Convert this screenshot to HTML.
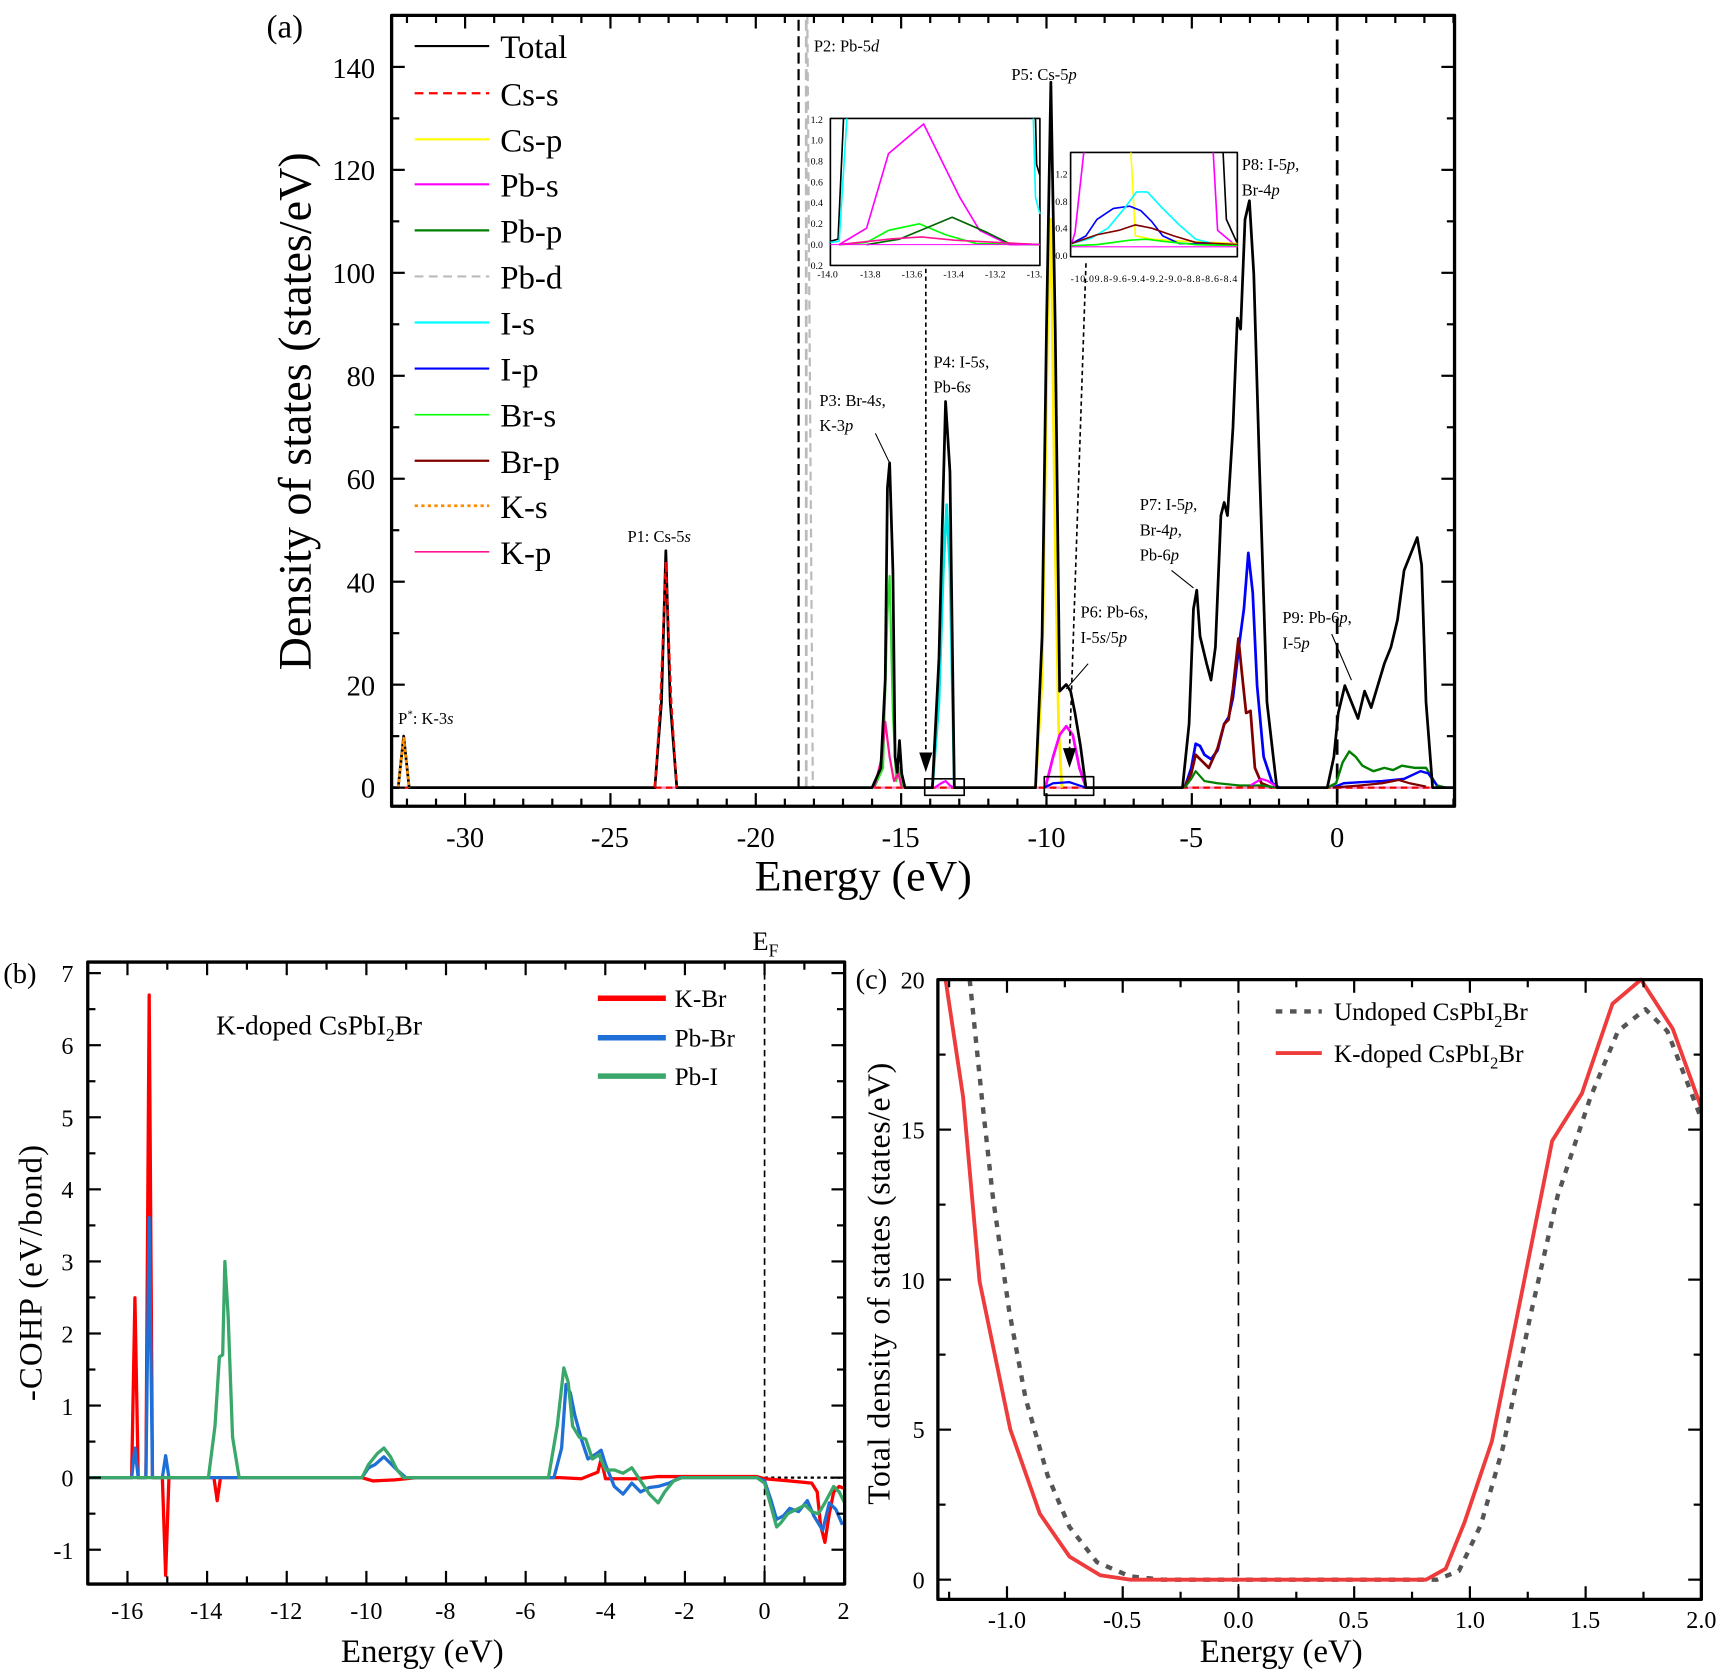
<!DOCTYPE html>
<html><head><meta charset="utf-8"><style>
html,body{margin:0;padding:0;background:#fff;}
svg{display:block;}
text{font-family:"Liberation Serif",serif;fill:#000;}
</style></head><body>
<svg id="s" width="1720" height="1674" viewBox="0 0 1568 1526" preserveAspectRatio="none" xmlns="http://www.w3.org/2000/svg">
<g fill="none" stroke-linejoin="round">
<!-- ===== Panel (a) ===== -->
<line x1="728" y1="718" x2="728" y2="14" stroke="#000" stroke-width="2" stroke-dasharray="10,5"/>
<line x1="735" y1="718" x2="735" y2="14" stroke="#bbb" stroke-width="2.5" stroke-dasharray="10,5"/>
<polyline points="736,14 738,300 741,718" stroke="#bbb" stroke-width="2" stroke-dasharray="8,5"/>
<line x1="1219" y1="14" x2="1219" y2="735" stroke="#000" stroke-width="2.5" stroke-dasharray="14,8"/>
<polyline points="357,718 1326,718" stroke="#ff7fbf" stroke-width="2"/>
<polyline points="357,718 1326,718" stroke="#e00" stroke-width="2" stroke-dasharray="6,4"/>
<polyline points="797,718 805,700 809,560 811,525 814,650 817,712 820,700 822,710 824,718" stroke="#33dd33" stroke-width="2"/>
<polyline points="797,718 804,690 807,658 811,690 815,712 819,705 822,718" stroke="#ff1493" stroke-width="2"/>
<polyline points="850,718 856,640 860,520 863,460 866,520 870,718" stroke="#00e5e5" stroke-width="2.5"/>
<polyline points="852,718 858,714 862,712 866,716 870,718" stroke="#f0f" stroke-width="2"/>
<polyline points="944,718 950,620 955,300 958,200 962,500 965,660 968,718" stroke="#ffee00" stroke-width="2.5"/>
<polyline points="953,718 960,690 966,670 972,662 978,670 984,700 990,718" stroke="#f0f" stroke-width="2.5"/>
<polyline points="952,718 960,714 975,713 990,718" stroke="#00f" stroke-width="2"/>
<polyline points="1080,718 1086,700 1090,678 1094,680 1098,688 1104,692 1110,684 1116,660 1120,654 1124,636 1130,585 1134,555 1138,504 1142,540 1146,625 1152,690 1160,714 1166,718" stroke="#00f" stroke-width="2.5"/>
<polyline points="1080,718 1086,705 1090,688 1096,694 1102,700 1110,682 1116,660 1120,656 1124,628 1129,582 1132,612 1136,650 1140,648 1144,700 1150,714 1160,718" stroke="#800000" stroke-width="2.5"/>
<polyline points="1080,718 1086,710 1090,703 1098,712 1110,714 1130,716 1150,716 1165,718" stroke="#008000" stroke-width="2"/>
<polyline points="1140,716 1150,710 1156,712 1165,718" stroke="#f0f" stroke-width="2"/>
<polyline points="1210,718 1218,714 1224,695 1230,685 1236,690 1242,698 1252,703 1262,700 1270,702 1278,698 1290,700 1300,700 1310,716 1318,718" stroke="#008000" stroke-width="2.2"/>
<polyline points="1215,718 1225,714 1240,713 1260,712 1280,710 1295,703 1302,705 1310,716" stroke="#00f" stroke-width="2.2"/>
<polyline points="1215,718 1240,716 1260,714 1275,711 1285,714 1300,717" stroke="#800000" stroke-width="2"/>
<!-- Total -->
<polyline points="357,718 363,718 368,671 373,718 597,718 603,640 607,502 611,640 617,718 795,718 803,700 807,620 809,445 811,422 814,520 816,690 818,704 820,675 822,705 825,718 850,718 856,600 859,480 862,366 866,430 870,718 944,718 950,580 954,300 958,75 962,300 966,630 972,624 976,630 980,650 985,680 990,718 1078,718 1084,660 1088,555 1091,538 1094,580 1100,605 1104,620 1108,590 1113,470 1116,458 1119,470 1124,390 1128,290 1131,300 1135,200 1139,183 1143,250 1148,420 1155,640 1164,718 1210,718 1216,690 1220,650 1226,625 1232,640 1238,655 1244,630 1250,645 1256,625 1262,605 1268,590 1274,565 1280,520 1286,505 1292,490 1296,515 1300,640 1306,718 1326,718" stroke="#000" stroke-width="2.5"/>
<!-- overlays on top of total -->
<polyline points="363,718 368,673 373,718" stroke="#ff8c00" stroke-width="2.5" stroke-dasharray="3,2"/>
<polyline points="597,718 602,640 607,512 612,640 617,718" stroke="#f00" stroke-width="2" stroke-dasharray="6,4"/>
<rect x="843" y="710" width="36" height="15" stroke="#000" stroke-width="1.5"/>
<rect x="952" y="708" width="45" height="17" stroke="#000" stroke-width="1.5"/>
<line x1="844" y1="245" x2="844" y2="690" stroke="#000" stroke-width="1.5" stroke-dasharray="4,3"/>
<line x1="990" y1="240" x2="975" y2="684" stroke="#000" stroke-width="1.5" stroke-dasharray="4,3"/>
<polygon points="838,686 850,686 844,704" fill="#000" stroke="none"/>
<polygon points="969,682 981,682 975,700" fill="#000" stroke="none"/>
<line x1="798" y1="395" x2="811" y2="422" stroke="#000" stroke-width="1"/>
<line x1="1068" y1="520" x2="1088" y2="536" stroke="#000" stroke-width="1"/>
<line x1="992" y1="605" x2="972" y2="628" stroke="#000" stroke-width="1"/>
<line x1="1214" y1="578" x2="1232" y2="620" stroke="#000" stroke-width="1"/>
<rect x="357" y="14" width="969" height="721" stroke="#000" stroke-width="3"/>
<g id="ticksA" stroke="#000" stroke-width="2"></g>

<!-- Inset 1 -->
<rect x="757" y="108" width="191" height="134" fill="#fff" stroke="#000" stroke-width="1.5"/>
<polyline points="757,220 764,218 769,108" stroke="#000" stroke-width="1.5"/>
<polyline points="757,221 765,220 772,108" stroke="#0ff" stroke-width="1.5"/>
<polyline points="944,108 945,150 948,160" stroke="#000" stroke-width="1.5"/>
<polyline points="942,108 944,180 948,195" stroke="#0ff" stroke-width="1.5"/>
<polyline points="765,223 790,208 810,140 842,113 875,180 893,210 920,223 948,223" stroke="#f0f" stroke-width="1.5"/>
<polyline points="765,223 790,221 810,210 838,204 862,214 890,222 948,223" stroke="#0f0" stroke-width="1.5"/>
<polyline points="790,223 820,218 868,198 900,212 920,222 948,223" stroke="#006400" stroke-width="1.5"/>
<polyline points="765,223 810,218 840,216 870,219 948,223" stroke="#ff1493" stroke-width="1.5"/>
<polyline points="757,223 948,223" stroke="#f0f" stroke-width="1"/>
<!-- Inset 2 -->
<rect x="976" y="139" width="152" height="95" fill="#fff" stroke="#000" stroke-width="1.5"/>
<polyline points="977,222 980,212 988,139" stroke="#f0f" stroke-width="1.5"/>
<polyline points="1106,139 1110,210 1128,225" stroke="#f0f" stroke-width="1.5"/>
<polyline points="1115,139 1118,200 1128,222" stroke="#000" stroke-width="1.5"/>
<polyline points="1031,139 1035,215 1050,218 1080,220 1128,222" stroke="#ff0" stroke-width="1.5"/>
<polyline points="977,222 990,215 1000,200 1015,190 1030,188 1040,192 1050,202 1060,215 1075,222 1128,223" stroke="#00f" stroke-width="1.5"/>
<polyline points="977,222 995,217 1010,208 1025,190 1036,175 1046,175 1058,188 1075,205 1090,218 1110,223 1128,223" stroke="#0ff" stroke-width="1.5"/>
<polyline points="977,222 1000,214 1020,210 1035,205 1050,208 1070,215 1090,221 1128,223" stroke="#800000" stroke-width="1.5"/>
<polyline points="977,224 1000,223 1030,219 1045,218 1060,220 1090,223 1128,224" stroke="#0f0" stroke-width="1.5"/>
<polyline points="977,225 1128,225" stroke="#f0f" stroke-width="1"/>

<line x1="378" y1="42" x2="446" y2="42" stroke="#000" stroke-width="2"/>
<line x1="378" y1="85" x2="446" y2="85" stroke="#f00" stroke-width="2" stroke-dasharray="8,5"/>
<line x1="378" y1="127" x2="446" y2="127" stroke="#ff0" stroke-width="2"/>
<line x1="378" y1="168" x2="446" y2="168" stroke="#f0f" stroke-width="2"/>
<line x1="378" y1="210" x2="446" y2="210" stroke="#008000" stroke-width="2"/>
<line x1="378" y1="252" x2="446" y2="252" stroke="#bbb" stroke-width="2" stroke-dasharray="8,5"/>
<line x1="378" y1="294" x2="446" y2="294" stroke="#0ff" stroke-width="2"/>
<line x1="378" y1="336" x2="446" y2="336" stroke="#00f" stroke-width="2"/>
<line x1="378" y1="378" x2="446" y2="378" stroke="#0f0" stroke-width="1.5"/>
<line x1="378" y1="420" x2="446" y2="420" stroke="#800000" stroke-width="2"/>
<line x1="378" y1="461" x2="446" y2="461" stroke="#ff8c00" stroke-width="2.5" stroke-dasharray="3,3"/>
<line x1="378" y1="503" x2="446" y2="503" stroke="#ff1493" stroke-width="1.5"/>

<!-- ===== Panel (b) ===== -->
<line x1="697" y1="877" x2="697" y2="1444" stroke="#000" stroke-width="1.5" stroke-dasharray="6,4"/>
<line x1="697" y1="1347" x2="770" y2="1347" stroke="#000" stroke-width="2" stroke-dasharray="3,3"/>
<polyline points="80,1347 120,1347 123,1183 126,1347 133,1347 136,907 139,1347 148,1347 151,1436 154,1347 195,1347 198,1368 201,1347 330,1347 340,1350 360,1349 380,1347 510,1347 530,1348 545,1342 548,1330 552,1348 580,1348 600,1346 690,1346 697,1348 720,1350 740,1352 745,1360 748,1390 752,1406 756,1380 760,1360 765,1355 770,1357" stroke="#f00" stroke-width="3"/>
<polyline points="80,1347 120,1347 123,1320 126,1347 133,1347 136,1110 139,1347 148,1347 151,1327 154,1347 330,1347 336,1338 342,1335 350,1328 356,1334 362,1340 370,1347 505,1347 512,1320 516,1262 520,1270 524,1290 530,1312 536,1330 544,1325 548,1322 552,1335 560,1355 568,1362 576,1352 584,1360 592,1356 600,1355 610,1352 620,1347 690,1347 697,1350 703,1368 708,1385 714,1382 720,1375 728,1378 736,1368 742,1382 750,1395 756,1370 762,1376 768,1390" stroke="#1f6fd6" stroke-width="3"/>
<polyline points="80,1347 190,1347 196,1300 200,1237 203,1235 205,1150 208,1200 212,1310 218,1347 330,1347 336,1335 344,1325 350,1320 356,1328 362,1340 368,1347 500,1347 508,1300 514,1247 518,1260 522,1300 528,1310 534,1312 540,1330 546,1326 552,1340 560,1340 568,1343 576,1338 584,1350 592,1362 600,1370 606,1360 614,1350 622,1347 690,1347 697,1352 702,1370 708,1392 712,1388 718,1380 726,1376 734,1372 740,1378 746,1380 752,1370 760,1355 765,1360 770,1370" stroke="#3aa86a" stroke-width="3"/>
<rect x="80" y="877" width="690" height="567" stroke="#000" stroke-width="3"/>
<g id="ticksB" stroke="#000" stroke-width="2"></g>
<line x1="545" y1="910" x2="607" y2="910" stroke="#f00" stroke-width="5"/>
<line x1="545" y1="946" x2="607" y2="946" stroke="#1f6fd6" stroke-width="5"/>
<line x1="545" y1="981" x2="607" y2="981" stroke="#3aa86a" stroke-width="5"/>

<!-- ===== Panel (c) ===== -->
<line x1="1129" y1="893" x2="1129" y2="1458" stroke="#000" stroke-width="1.5" stroke-dasharray="12,7"/>
<polyline points="884,893 895,1000 905,1090 920,1195 935,1275 955,1345 975,1392 1000,1424 1030,1437 1060,1440 1310,1440 1330,1432 1350,1390 1370,1320 1395,1200 1420,1090 1450,1000 1475,940 1500,920 1520,940 1551,1020" stroke="#555" stroke-width="4" stroke-dasharray="6,7"/>
<polyline points="862,893 878,1000 893,1168 921,1303 948,1380 975,1419 1003,1436 1030,1440 1300,1440 1318,1430 1335,1388 1360,1314 1388,1175 1415,1040 1442,997 1470,915 1496,893 1525,938 1551,1010" stroke="#ee3b3b" stroke-width="3.5"/>
<rect x="855" y="893" width="696" height="565" stroke="#000" stroke-width="3"/>
<g id="ticksC" stroke="#000" stroke-width="2"></g>
<line x1="1163" y1="922" x2="1205" y2="922" stroke="#555" stroke-width="4" stroke-dasharray="6,7"/>
<line x1="1163" y1="960" x2="1205" y2="960" stroke="#ee3b3b" stroke-width="3.5"/>
</g>

<text x="243" y="34" font-size="30">(a)</text>
<g font-size="26" text-anchor="end">
<text x="342" y="71">140</text><text x="342" y="164">120</text><text x="342" y="258">100</text>
<text x="342" y="352">80</text><text x="342" y="446">60</text><text x="342" y="540">40</text>
<text x="342" y="634">20</text><text x="342" y="727">0</text>
</g>
<g font-size="26" text-anchor="middle">
<text x="424" y="772">-30</text><text x="556" y="772">-25</text><text x="689" y="772">-20</text>
<text x="821" y="772">-15</text><text x="954" y="772">-10</text><text x="1086" y="772">-5</text><text x="1219" y="772">0</text>
</g>
<text x="787" y="812" font-size="40" text-anchor="middle">Energy (eV)</text>
<text transform="translate(283,375) rotate(-90)" font-size="42" text-anchor="middle">Density of states (states/eV)</text>
<g font-size="30">
<text x="456" y="53">Total</text><text x="456" y="96">Cs-s</text><text x="456" y="138">Cs-p</text>
<text x="456" y="179">Pb-s</text><text x="456" y="221">Pb-p</text><text x="456" y="263">Pb-d</text>
<text x="456" y="305">I-s</text><text x="456" y="347">I-p</text><text x="456" y="389">Br-s</text>
<text x="456" y="431">Br-p</text><text x="456" y="472">K-s</text><text x="456" y="514">K-p</text>
</g>
<g font-size="15">
<text x="363" y="660">P<tspan font-size="10" dy="-6">*</tspan><tspan dy="6">: K-3</tspan><tspan font-style="italic">s</tspan></text>
<text x="572" y="494">P1: Cs-5<tspan font-style="italic">s</tspan></text>
<text x="742" y="47">P2: Pb-5<tspan font-style="italic">d</tspan></text>
<text x="747" y="370">P3: Br-4<tspan font-style="italic">s</tspan>,</text>
<text x="747" y="393">K-3<tspan font-style="italic">p</tspan></text>
<text x="851" y="335">P4: I-5<tspan font-style="italic">s</tspan>,</text>
<text x="851" y="358">Pb-6<tspan font-style="italic">s</tspan></text>
<text x="922" y="73">P5: Cs-5<tspan font-style="italic">p</tspan></text>
<text x="985" y="563">P6: Pb-6<tspan font-style="italic">s</tspan>,</text>
<text x="985" y="586">I-5<tspan font-style="italic">s</tspan>/5<tspan font-style="italic">p</tspan></text>
<text x="1039" y="465">P7: I-5<tspan font-style="italic">p</tspan>,</text>
<text x="1039" y="488">Br-4<tspan font-style="italic">p</tspan>,</text>
<text x="1039" y="511">Pb-6<tspan font-style="italic">p</tspan></text>
<text x="1132" y="155">P8: I-5<tspan font-style="italic">p</tspan>,</text>
<text x="1132" y="178">Br-4<tspan font-style="italic">p</tspan></text>
<text x="1169" y="568">P9: Pb-6<tspan font-style="italic">p</tspan>,</text>
<text x="1169" y="591">I-5<tspan font-style="italic">p</tspan></text>
</g>
<g font-size="9">
<text x="739" y="112">1.2</text><text x="739" y="131">1.0</text><text x="739" y="150">0.8</text><text x="739" y="169">0.6</text><text x="739" y="188">0.4</text><text x="739" y="207">0.2</text><text x="739" y="226">0.0</text><text x="739" y="245">0.2</text>
<text x="745" y="253">-14.0</text><text x="784" y="253">-13.8</text><text x="822" y="253">-13.6</text><text x="860" y="253">-13.4</text><text x="898" y="253">-13.2</text><text x="936" y="253">-13.</text>
<text x="962" y="162">1.2</text><text x="962" y="187">0.8</text><text x="962" y="211">0.4</text><text x="962" y="236">0.0</text>
<text x="976" y="257" textLength="152">-10.09.8-9.6-9.4-9.2-9.0-8.8-8.6-8.4</text>
</g>

<text x="3" y="896" font-size="26">(b)</text>
<g font-size="22" text-anchor="end">
<text x="67" y="895">7</text><text x="67" y="961">6</text><text x="67" y="1027">5</text><text x="67" y="1092">4</text>
<text x="67" y="1158">3</text><text x="67" y="1224">2</text><text x="67" y="1290">1</text><text x="67" y="1355">0</text><text x="67" y="1421">-1</text>
</g>
<g font-size="22" text-anchor="middle">
<text x="116" y="1476">-16</text><text x="188" y="1476">-14</text><text x="261" y="1476">-12</text><text x="334" y="1476">-10</text>
<text x="406" y="1476">-8</text><text x="479" y="1476">-6</text><text x="552" y="1476">-4</text><text x="624" y="1476">-2</text>
<text x="697" y="1476">0</text><text x="769" y="1476">2</text>
</g>
<text x="385" y="1515" font-size="30" text-anchor="middle">Energy (eV)</text>
<text transform="translate(38,1160) rotate(-90)" font-size="30" text-anchor="middle" letter-spacing="1">-COHP (eV/bond)</text>
<text x="686" y="866" font-size="24">E<tspan font-size="16" dy="6">F</tspan></text>
<text x="197" y="943" font-size="25">K-doped CsPbI<tspan font-size="16" dy="6">2</tspan><tspan dy="-6">Br</tspan></text>
<g font-size="23"><text x="615" y="918">K-Br</text><text x="615" y="954">Pb-Br</text><text x="615" y="989">Pb-I</text></g>

<text x="780" y="901" font-size="26">(c)</text>
<g font-size="22" text-anchor="end">
<text x="843" y="901">20</text><text x="843" y="1038">15</text><text x="843" y="1175">10</text><text x="843" y="1311">5</text><text x="843" y="1448">0</text>
</g>
<g font-size="22" text-anchor="middle">
<text x="918" y="1484">-1.0</text><text x="1023" y="1484">-0.5</text><text x="1129" y="1484">0.0</text><text x="1234" y="1484">0.5</text>
<text x="1340" y="1484">1.0</text><text x="1445" y="1484">1.5</text><text x="1551" y="1484">2.0</text>
</g>
<text x="1168" y="1515" font-size="30" text-anchor="middle">Energy (eV)</text>
<text transform="translate(811,1170) rotate(-90)" font-size="29" text-anchor="middle" letter-spacing="0.5">Total density of states (states/eV)</text>
<g font-size="23">
<text x="1216" y="930">Undoped CsPbI<tspan font-size="15" dy="6">2</tspan><tspan dy="-6">Br</tspan></text>
<text x="1216" y="968">K-doped CsPbI<tspan font-size="15" dy="6">2</tspan><tspan dy="-6">Br</tspan></text>
</g>
</svg>
<script>
(function(){
var NS="http://www.w3.org/2000/svg";
function L(g,x1,y1,x2,y2){var l=document.createElementNS(NS,"line");l.setAttribute("x1",x1);l.setAttribute("y1",y1);l.setAttribute("x2",x2);l.setAttribute("y2",y2);g.appendChild(l);}
function ticks(id,x0,x1,y0,y1,xs,ys){
 var g=document.getElementById(id);
 xs.forEach(function(t){var len=t[1]?12:7;L(g,t[0],y1,t[0],y1-len);L(g,t[0],y0,t[0],y0+len);});
 ys.forEach(function(t){var len=t[1]?12:7;L(g,x0,t[0],x0+len,t[0]);L(g,x1,t[0],x1-len,t[0]);});
}
var xs=[],ys=[],e,v;
for(e=-32;e<=4;e++){var x=1219+26.5*e;if(x>357&&x<1326)xs.push([x,e%5==0]);}
for(v=0;v<=150;v+=10){var y=718-4.693*v;if(y>14)ys.push([y,v%20==0]);}
ticks("ticksA",357,1326,14,735,xs,ys);
xs=[];ys=[];
for(e=-17;e<=2;e++){var x=697+36.3*e;if(x>80&&x<=770)xs.push([x,e%2==0]);}
for(v=-1.5;v<=7;v+=0.5){var y=1347-65.7*v;if(y>=887&&y<1444)ys.push([y,v%1==0]);}
ticks("ticksB",80,770,877,1444,xs,ys);
xs=[];ys=[];
for(e=-1.25;e<=2;e+=0.25){var x=1129+211*e;if(x>855&&x<1551)xs.push([x,Math.abs(e*2-Math.round(e*2))<1e-6]);}
for(v=0;v<=20;v+=2.5){var y=1440-27.35*v;if(y>893)ys.push([y,v%5==0]);}
ticks("ticksC",855,1551,893,1458,xs,ys);
})();
</script>
</body></html>
